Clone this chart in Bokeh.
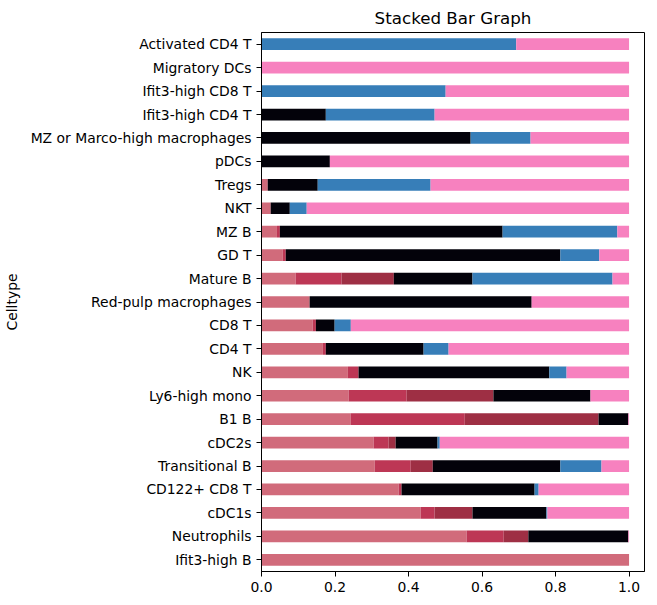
from bokeh.plotting import figure
from bokeh.models import ColumnDataSource, FactorRange, Range1d, FixedTicker, PrintfTickFormatter
from bokeh.embed import file_html
from bokeh.resources import INLINE

# Cell types, listed from the bottom bar to the top bar
celltypes = [
    "Ifit3-high B", "Neutrophils", "cDC1s", "CD122+ CD8 T", "Transitional B",
    "cDC2s", "B1 B", "Ly6-high mono", "NK", "CD4 T", "CD8 T",
    "Red-pulp macrophages", "Mature B", "GD T", "MZ B", "NKT", "Tregs",
    "pDCs", "MZ or Marco-high macrophages", "Ifit3-high CD4 T",
    "Ifit3-high CD8 T", "Migratory DCs", "Activated CD4 T",
]

# Fraction of each cell type coming from each of the six groups
group_a = [1.000, 0.558, 0.433, 0.373, 0.308, 0.305, 0.243, 0.237, 0.235, 0.167, 0.139,
           0.131, 0.093, 0.058, 0.042, 0.025, 0.017, 0.0, 0.0, 0.0, 0.0, 0.0, 0.0]
group_b = [0.0, 0.101, 0.038, 0.008, 0.098, 0.041, 0.310, 0.158, 0.029, 0.008, 0.009,
           0.0, 0.125, 0.008, 0.008, 0.0, 0.0, 0.0, 0.0, 0.0, 0.0, 0.0, 0.0]
group_c = [0.0, 0.067, 0.103, 0.0, 0.060, 0.019, 0.364, 0.236, 0.0, 0.0, 0.0,
           0.0, 0.142, 0.0, 0.0, 0.0, 0.0, 0.0, 0.0, 0.0, 0.0, 0.0, 0.0]
group_d = [0.0, 0.272, 0.201, 0.362, 0.347, 0.114, 0.081, 0.264, 0.519, 0.266, 0.051,
           0.604, 0.214, 0.747, 0.606, 0.052, 0.136, 0.186, 0.569, 0.175, 0.0, 0.0, 0.0]
group_e = [0.0, 0.0, 0.003, 0.011, 0.112, 0.006, 0.0, 0.0, 0.047, 0.068, 0.044,
           0.0, 0.381, 0.106, 0.312, 0.046, 0.307, 0.0, 0.163, 0.296, 0.501, 0.0, 0.693]
group_f = [0.0, 0.002, 0.222, 0.246, 0.075, 0.515, 0.002, 0.105, 0.170, 0.491, 0.757,
           0.265, 0.045, 0.081, 0.032, 0.877, 0.540, 0.814, 0.268, 0.529, 0.499, 1.000, 0.307]

groups = ["group_a", "group_b", "group_c", "group_d", "group_e", "group_f"]
palette = ["#d16b7b", "#bd3755", "#9e2f44", "#03020a", "#377eb8", "#f781bf"]
x_ticks = [0.0, 0.2, 0.4, 0.6, 0.8, 1.0]

source = ColumnDataSource(data=dict(
    celltype=celltypes,
    group_a=group_a, group_b=group_b, group_c=group_c,
    group_d=group_d, group_e=group_e, group_f=group_f,
))

FONT = "DejaVu Sans"

p = figure(
    width=657, height=605,
    y_range=FactorRange(factors=celltypes, range_padding=0),
    x_range=Range1d(0, 1.042),
    title="Stacked Bar Graph",
    output_backend="svg", toolbar_location=None,
    min_border_left=260, min_border_right=13,
    min_border_top=32, min_border_bottom=34,
)

p.hbar_stack(groups, y="celltype", height=0.5, color=palette,
             line_color=None, source=source)

p.title.text_font = FONT
p.title.text_font_size = "16.7px"
p.title.text_font_style = "normal"
p.title.align = "center"
p.title.text_color = "black"

p.xaxis.ticker = FixedTicker(ticks=x_ticks)
p.xaxis.formatter = PrintfTickFormatter(format="%.1f")
p.xaxis.minor_tick_line_color = None

p.yaxis.axis_label = "Celltype"
p.yaxis.axis_label_text_font = FONT
p.yaxis.axis_label_text_font_size = "13.9px"
p.yaxis.axis_label_text_font_style = "normal"
p.yaxis.axis_label_text_color = "black"
p.yaxis.axis_label_standoff = 8

for ax in (p.xaxis, p.yaxis):
    ax.major_label_text_font = FONT
    ax.major_label_text_font_size = "13.9px"
    ax.major_label_text_color = "black"
    ax.major_tick_in = 0
    ax.major_tick_out = 5
    ax.major_tick_line_color = "black"
    ax.axis_line_color = "black"

p.xgrid.grid_line_color = None
p.ygrid.grid_line_color = None
p.outline_line_color = "black"
p.outline_line_alpha = 1.0
p.background_fill_color = "white"
p.border_fill_color = "white"

open("out.html", "w").write(file_html(p, INLINE))
